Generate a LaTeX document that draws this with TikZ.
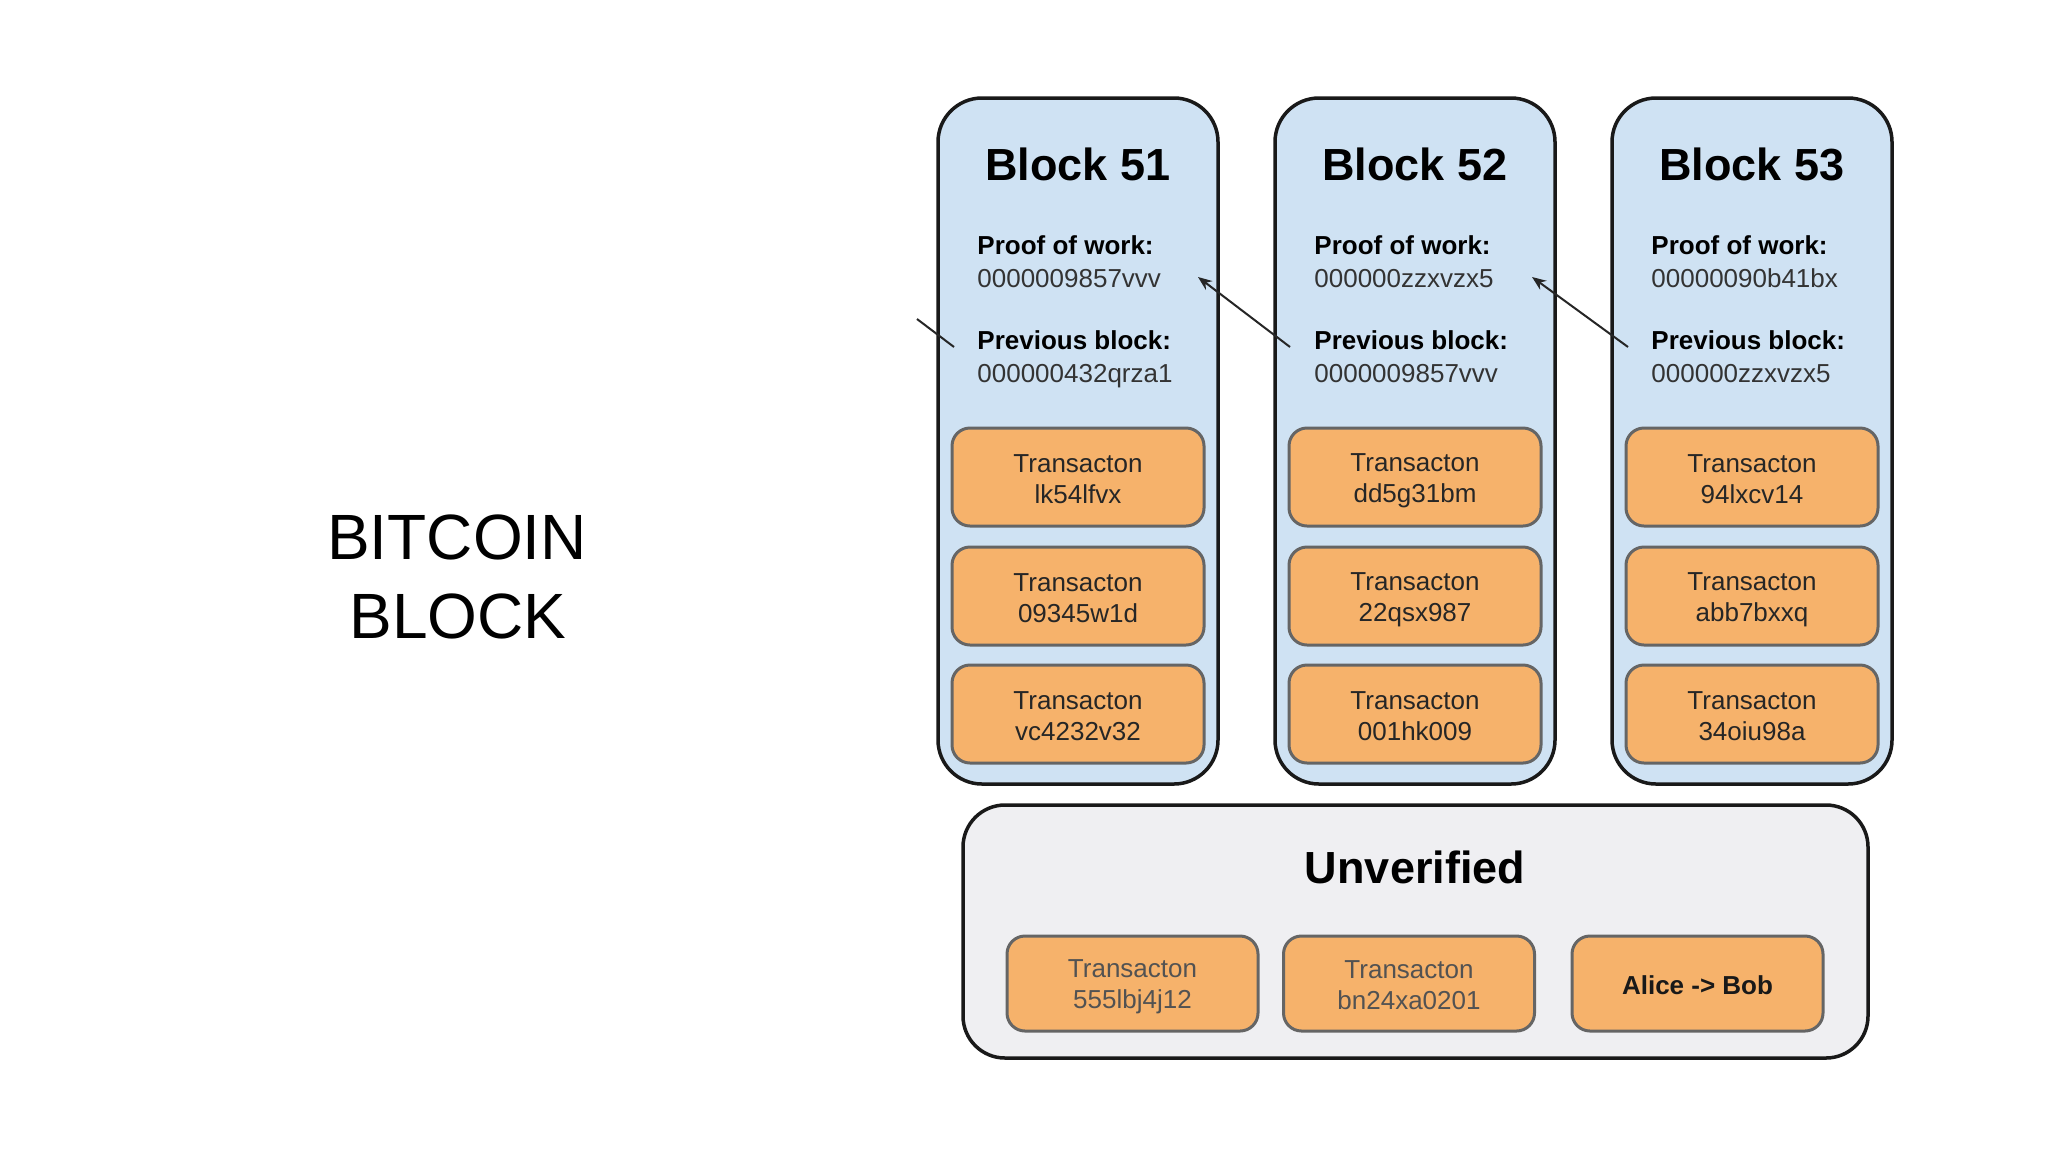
\documentclass[tikz,border=0pt]{standalone}
\usepackage{fontspec}
\setmainfont{Liberation Sans}
\usetikzlibrary{arrows.meta}
\definecolor{blkfill}{HTML}{CFE2F3}
\definecolor{txfill}{HTML}{F6B26B}
\definecolor{unvfill}{HTML}{EFEFF2}
\definecolor{txline}{HTML}{656565}
\definecolor{valtext}{HTML}{333333}
\newcommand\txstrut{\rule[-2pt]{0pt}{14.5pt}}
\newcommand\txlab[2]{\txstrut #1\\\txstrut #2}
\begin{document}
\begin{tikzpicture}[x=0.5pt,y=-0.5pt,
  blockbox/.style={draw=black!90, line width=1.75pt, fill=blkfill, rounded corners=22pt,
    minimum width=140pt, minimum height=343pt, inner sep=0pt},
  unvbox/.style={draw=black!90, line width=1.75pt, fill=unvfill, rounded corners=21pt,
    minimum width=452.5pt, minimum height=126.5pt, inner sep=0pt},
  txbox/.style={draw=txline, line width=1.5pt, fill=txfill, rounded corners=9pt,
    minimum width=126pt, minimum height=49pt, inner sep=0pt, align=center,
    font=\fontsize{13}{15.5}\selectfont, text=black!85},
  utxbox/.style={txbox, minimum width=125.5pt, minimum height=47.5pt, text=black!68},
  blocktitle/.style={anchor=base, inner sep=0pt, font=\fontsize{22.5}{27}\selectfont\bfseries},
  fieldlabel/.style={anchor=base west, inner sep=0pt, font=\fontsize{13}{15.5}\selectfont\bfseries},
  fieldvalue/.style={anchor=base west, inner sep=0pt, font=\fontsize{13}{15.5}\selectfont, text=valtext},
  bigtitle/.style={anchor=base, inner sep=0pt, font=\fontsize{32}{38}\selectfont},
  chainlink/.style={draw=black!85, line width=1pt},
  chainarrow/.style={chainlink, -{Stealth[length=7pt,width=5.5pt]}}
]
\fill[white] (0,0) rectangle (2048,1152);
\useasboundingbox (0,0) rectangle (2048,1152);

% left title
\node[bigtitle] (t1) at (457,559) {BITCOIN};
\node[bigtitle] (t2) at (458,638) {BLOCK};

% blocks
\node[blockbox] (b51) at (1078,441) {};
\node[blockbox] (b52) at (1415,441) {};
\node[blockbox] (b53) at (1752,441) {};

\node[blocktitle] (h51) at (1078,180) {Block 51};
\node[blocktitle] (h52) at (1415,180) {Block 52};
\node[blocktitle] (h53) at (1752,180) {Block 53};

\node[fieldlabel] (pw51) at (977,254) {Proof of work:};
\node[fieldvalue] (pwv51) at (977,287) {0000009857vvv};
\node[fieldlabel] (pb51) at (977,349) {Previous block:};
\node[fieldvalue] (pbv51) at (977,382) {000000432qrza1};

\node[fieldlabel] (pw52) at (1314,254) {Proof of work:};
\node[fieldvalue] (pwv52) at (1314,287) {000000zzxvzx5};
\node[fieldlabel] (pb52) at (1314,349) {Previous block:};
\node[fieldvalue] (pbv52) at (1314,382) {0000009857vvv};

\node[fieldlabel] (pw53) at (1651,254) {Proof of work:};
\node[fieldvalue] (pwv53) at (1651,287) {00000090b41bx};
\node[fieldlabel] (pb53) at (1651,349) {Previous block:};
\node[fieldvalue] (pbv53) at (1651,382) {000000zzxvzx5};

% transactions in blocks
\node[txbox] (x511) at (1078,477) {\txlab{Transacton}{lk54lfvx}};
\node[txbox] (x512) at (1078,596) {\txlab{Transacton}{09345w1d}};
\node[txbox] (x513) at (1078,714) {\txlab{Transacton}{vc4232v32}};

\node[txbox] (x521) at (1415,477) {\txlab{Transacton}{dd5g31bm}};
\node[txbox] (x522) at (1415,596) {\txlab{Transacton}{22qsx987}};
\node[txbox] (x523) at (1415,714) {\txlab{Transacton}{001hk009}};

\node[txbox] (x531) at (1752,477) {\txlab{Transacton}{94lxcv14}};
\node[txbox] (x532) at (1752,596) {\txlab{Transacton}{abb7bxxq}};
\node[txbox] (x533) at (1752,714) {\txlab{Transacton}{34oiu98a}};

% chain links
\coordinate (s50) at (917,319);
\coordinate (e51) at (954,347);
\coordinate (tip51) at (1198,277);
\coordinate (e52) at (1290,347);
\coordinate (tip52) at (1532,277);
\coordinate (e53) at (1628,347);
\draw[chainlink] (e51) -- (s50);
\draw[chainarrow] (e52) -- (tip51);
\draw[chainarrow] (e53) -- (tip52);

% unverified pool
\node[unvbox] (unv) at (1415.5,931.5) {};
\node[blocktitle] (unvt) at (1415,883) {Unverified};
\node[utxbox] (u1) at (1132.5,983.5) {\txlab{Transacton}{555lbj4j12}};
\node[utxbox] (u2) at (1409,983.5) {\txlab{Transacton}{bn24xa0201}};
\node[utxbox, font=\fontsize{13}{15.5}\selectfont\bfseries, text=black!90] (u3) at (1697.5,983.5) {\txstrut Alice -> Bob};
\end{tikzpicture}
\end{document}
